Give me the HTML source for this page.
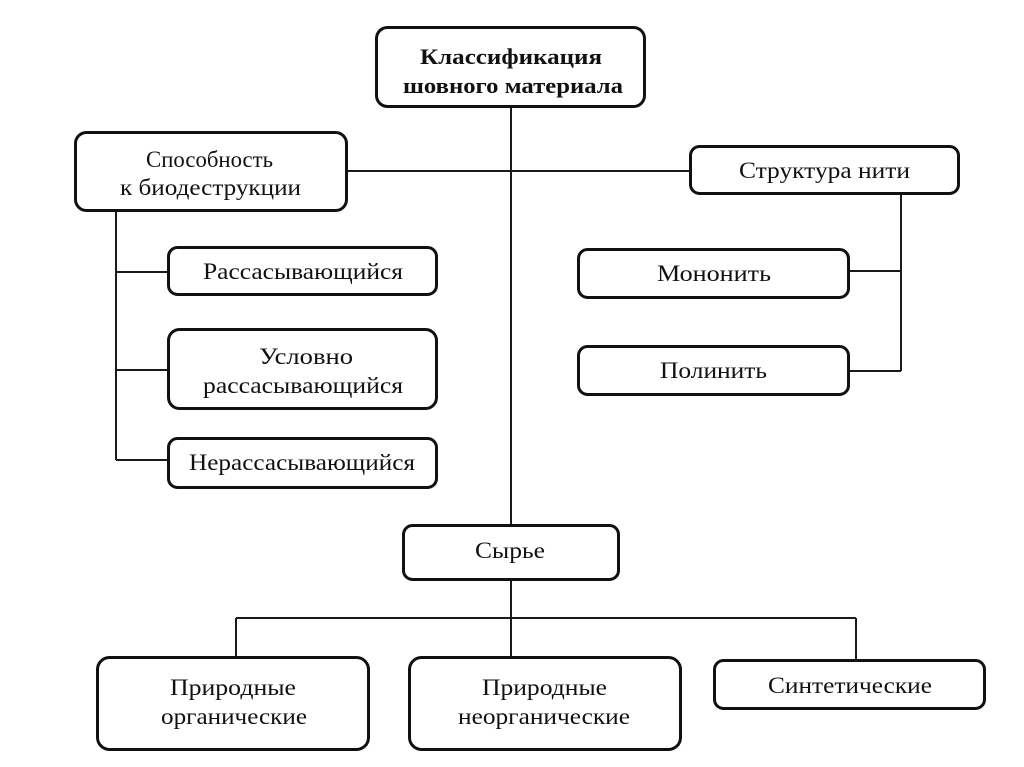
<!DOCTYPE html>
<html>
<head>
<meta charset="utf-8">
<style>
  html, body { margin: 0; padding: 0; background: #fff; }
  svg { display: block; }
  text { font-family: "Liberation Serif", "Noto Serif CJK SC", serif; fill: #111; font-size: 23px; }
  .b { font-weight: bold; font-size: 22px; }
</style>
</head>
<body>
<svg width="1024" height="767" viewBox="0 0 1024 767" xmlns="http://www.w3.org/2000/svg">
  <rect x="0" y="0" width="1024" height="767" fill="#fff"/>

  <!-- connectors -->
  <g stroke="#1a1a1a" stroke-width="2" fill="none">
    <line x1="511" y1="107" x2="511" y2="525"/>
    <line x1="347" y1="171" x2="690" y2="171"/>
    <!-- left group -->
    <line x1="116" y1="211" x2="116" y2="460"/>
    <line x1="116" y1="272" x2="168" y2="272"/>
    <line x1="116" y1="370" x2="168" y2="370"/>
    <line x1="116" y1="460" x2="168" y2="460"/>
    <!-- right group -->
    <line x1="901" y1="193" x2="901" y2="371"/>
    <line x1="848" y1="271" x2="901" y2="271"/>
    <line x1="848" y1="371" x2="901" y2="371"/>
    <!-- bottom -->
    <line x1="511" y1="580" x2="511" y2="657"/>
    <line x1="236" y1="618" x2="856" y2="618"/>
    <line x1="236" y1="618" x2="236" y2="657"/>
    <line x1="856" y1="618" x2="856" y2="660"/>
  </g>

  <!-- boxes -->
  <g stroke="#111" stroke-width="3" fill="#fff">
    <rect x="376.5" y="27.5" width="268" height="79" rx="11"/>
    <rect x="75.5" y="132.5" width="271" height="78" rx="11"/>
    <rect x="690.5" y="146.5" width="268" height="47" rx="9"/>
    <rect x="168.5" y="247.5" width="268" height="47" rx="9"/>
    <rect x="168.5" y="329.5" width="268" height="79" rx="11"/>
    <rect x="168.5" y="438.5" width="268" height="49" rx="9"/>
    <rect x="578.5" y="249.5" width="270" height="48" rx="9"/>
    <rect x="578.5" y="346.5" width="270" height="48" rx="9"/>
    <rect x="403.5" y="525.5" width="215" height="54" rx="9"/>
    <rect x="97.5" y="657.5" width="271" height="92" rx="12"/>
    <rect x="409.5" y="657.5" width="271" height="92" rx="12"/>
    <rect x="714.5" y="660.5" width="270" height="48" rx="9"/>
  </g>

  <!-- labels -->
  <text class="b" x="420" y="64" textLength="182" lengthAdjust="spacingAndGlyphs">Классификация</text>
  <text class="b" x="403" y="93" textLength="220" lengthAdjust="spacingAndGlyphs">шовного материала</text>

  <text x="146" y="167" textLength="127" lengthAdjust="spacingAndGlyphs">Способность</text>
  <text x="120" y="195" textLength="181" lengthAdjust="spacingAndGlyphs">к биодеструкции</text>

  <text x="739" y="178" textLength="171" lengthAdjust="spacingAndGlyphs">Структура нити</text>

  <text x="203" y="279" textLength="200" lengthAdjust="spacingAndGlyphs">Рассасывающийся</text>
  <text x="259" y="364" textLength="94" lengthAdjust="spacingAndGlyphs">Условно</text>
  <text x="203" y="393" textLength="200" lengthAdjust="spacingAndGlyphs">рассасывающийся</text>
  <text x="189" y="470" textLength="226" lengthAdjust="spacingAndGlyphs">Нерассасывающийся</text>

  <text x="657" y="281" textLength="114" lengthAdjust="spacingAndGlyphs">Мононить</text>
  <text x="660" y="378" textLength="107" lengthAdjust="spacingAndGlyphs">Полинить</text>

  <text x="475" y="558" textLength="70" lengthAdjust="spacingAndGlyphs">Сырье</text>

  <text x="170" y="695" textLength="126" lengthAdjust="spacingAndGlyphs">Природные</text>
  <text x="161" y="724" textLength="146" lengthAdjust="spacingAndGlyphs">органические</text>

  <text x="482" y="695" textLength="125" lengthAdjust="spacingAndGlyphs">Природные</text>
  <text x="458" y="724" textLength="172" lengthAdjust="spacingAndGlyphs">неорганические</text>

  <text x="768" y="693" textLength="164" lengthAdjust="spacingAndGlyphs">Синтетические</text>
</svg>
</body>
</html>
